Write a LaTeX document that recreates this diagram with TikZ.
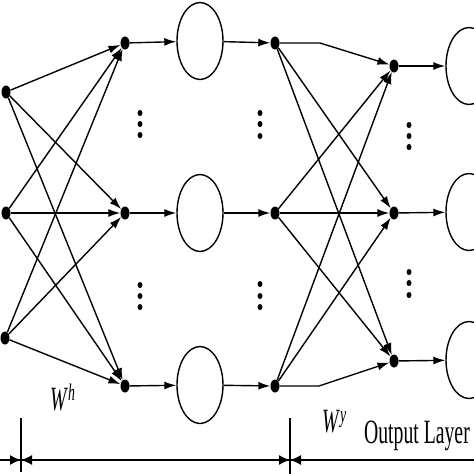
\documentclass[tikz,border=0pt]{standalone}
\usepackage{fontspec}
\setmainfont{Liberation Serif}
\usetikzlibrary{arrows.meta}
\usetikzlibrary{shapes.geometric}

\begin{document}
\begin{tikzpicture}[
		x=1pt, y=-1pt,
		unit/.style={ellipse, draw, line width=1.4pt, minimum width=46pt, minimum height=77pt, inner sep=0pt},
		dot/.style={ellipse, fill, minimum width=9pt, minimum height=13pt, inner sep=0pt},
		vdot/.style={ellipse, fill, minimum width=5pt, minimum height=6pt, inner sep=0pt},
		edge/.style={line width=1.4pt, -{Latex[length=12pt,width=8pt]}},
		dimline/.style={line width=1.5pt},
		dim/.style={dimline, -{Latex[length=11pt,width=10pt]}},
		layertext/.style={font=\fontsize{34}{36}\selectfont, xscale=0.58, inner sep=0pt, anchor=base west}
	]
	\useasboundingbox (0,0) rectangle (474,474);

	% input layer
	\node[dot] (in1) at (6,92) {};
	\node[dot] (in2) at (6,213) {};
	\node[dot] (in3) at (5,338) {};

	% hidden layer
	\node[dot] (h1) at (125,43) {};
	\node[dot] (h2) at (125,213) {};
	\node[dot] (h3) at (125,386) {};
	\node[unit] (c1) at (200,41) {};
	\node[unit] (c2) at (200,213) {};
	\node[unit] (c3) at (200,385) {};
	\node[dot] (g1) at (275,43) {};
	\node[dot] (g2) at (275,213) {};
	\node[dot] (g3) at (275,386) {};

	% output layer
	\node[dot] (o1) at (394,66) {};
	\node[dot] (o2) at (394,213) {};
	\node[dot] (o3) at (394,361) {};
	\node[unit] (d1) at (469,66) {};
	\node[unit] (d2) at (469,212) {};
	\node[unit] (d3) at (469,360) {};

	\coordinate (k1) at (320,43);
	\coordinate (k3) at (319,386);

	\foreach \i in {1,2,3}
		\foreach \j in {1,2,3}
			\draw[edge] (in\i) -- (h\j);
	\foreach \i in {1,2,3} {
		\draw[edge] (h\i) -- (c\i);
		\draw[edge] (c\i) -- (g\i);
		\draw[edge] (o\i) -- (d\i);
	}
	\foreach \i/\j in {1/2,1/3,2/1,2/2,2/3,3/1,3/2}
		\draw[edge] (g\i) -- (o\j);
	\draw[edge] (g1) -- (k1) -- (o1);
	\draw[edge] (g3) -- (k3) -- (o3);

	% vertical dots
	\foreach \x/\y [count=\n] in {140/113,140/124,140/135,140/285,140/296,140/307,
		260/113,260/124,260/136,260/284,260/296,260/307,
		409/125,409/136,409/147,409/272,409/283,409/295}
		\node[vdot] (v\n) at (\x,\y) {};

	% labels
	\node[layertext] (wh) at (50,410) {\textit{W}\textsuperscript{\textit{h}}};
	\node[layertext] (wy) at (322,432) {\textit{W}\textsuperscript{\textit{y}}};
	\node[layertext] (out) at (364,443) {Output Layer};

	% layer bounds
	\coordinate (t1) at (21,460);
	\coordinate (a1) at (8,460);
	\coordinate (b1) at (34,460);
	\coordinate (t2) at (290,460);
	\coordinate (a2) at (277,460);
	\coordinate (b2) at (303,460);
	\draw[dimline] (0,460) -- (474,460);
	\draw[dimline] (21,418) -- (21,472);
	\draw[dimline] (290,418) -- (290,474);
	\draw[dim] (a1) -- (t1);
	\draw[dim] (b1) -- (t1);
	\draw[dim] (a2) -- (t2);
	\draw[dim] (b2) -- (t2);
\end{tikzpicture}
\end{document}
